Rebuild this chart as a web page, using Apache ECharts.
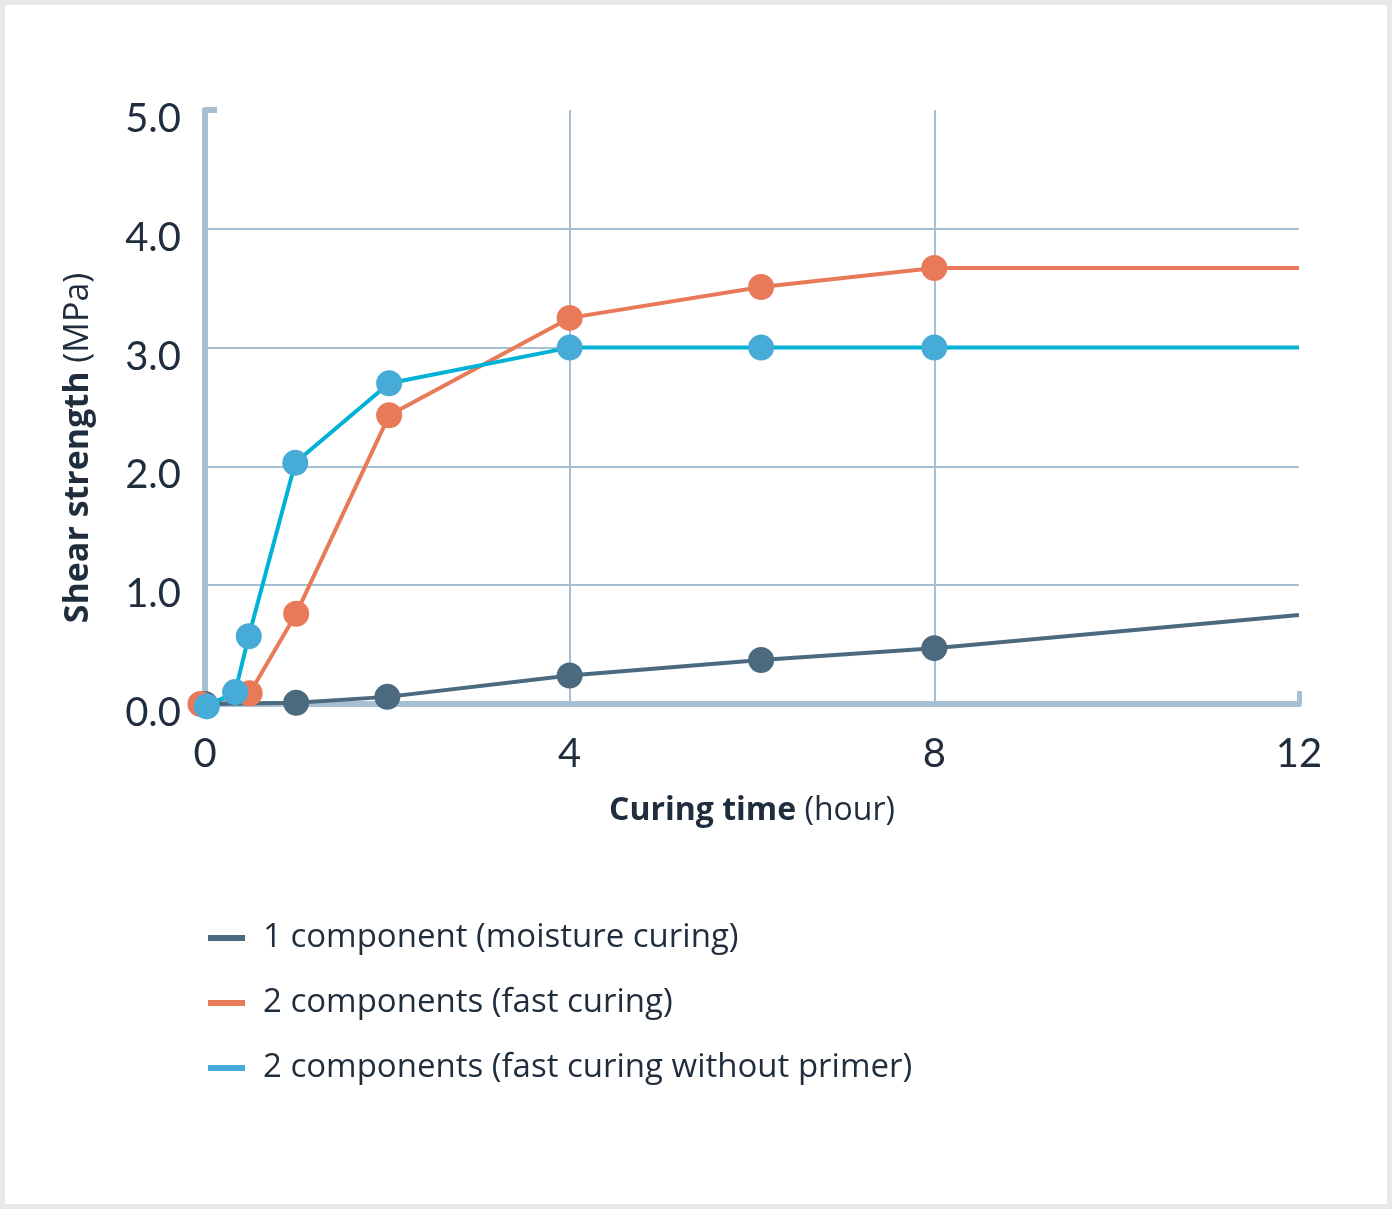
<!DOCTYPE html>
<html>
<head>
<meta charset="utf-8">
<script src="https://cdn.jsdelivr.net/npm/echarts@6/dist/echarts.min.js"></script>
<style>
html,body{margin:0;padding:0;background:#fff;}
#chart{position:absolute;left:0;top:0;width:1392px;height:1209px;}
#frame{position:absolute;left:0;top:0;width:1392px;height:1209px;box-sizing:border-box;border:5px solid #e8e8e8;pointer-events:none;}
</style>
</head>
<body>
<div id="chart"></div>
<div id="frame"></div>
<script>
// Data
const seriesNames = [
  '1 component (moisture curing)',
  '2 components (fast curing)',
  '2 components (fast curing without primer)'
];
const oneCompX = [0, 1, 2, 4, 6.1, 8, 12];
const oneCompY = [0.0, 0.01, 0.06, 0.24, 0.37, 0.47, 0.75];
const twoCompX = [-0.05, 0.49, 1, 2.02, 4, 6.1, 8, 12];
const twoCompY = [0.0, 0.09, 0.76, 2.43, 3.25, 3.51, 3.67, 3.67];
const noPrimerX = [0.02, 0.33, 0.48, 0.99, 2.02, 4, 6.1, 8, 12];
const noPrimerY = [-0.02, 0.1, 0.57, 2.03, 2.7, 3.0, 3.0, 3.0, 3.0];
const xTicks = [0, 4, 8, 12];
const yTicks = [0, 1, 2, 3, 4, 5];

function build(xs, ys) {
  return xs.map((x, i) => {
    const item = { value: [x, ys[i]] };
    if (i === xs.length - 1) { item.symbol = 'none'; }
    return item;
  });
}

const textColor = '#1f2d3d';
const gridColor = '#a7bfd2';
const tickFont = 'Lato, "Noto Sans", sans-serif';
const font = '"Open Sans", "Noto Sans", sans-serif';

const chart = echarts.init(document.getElementById('chart'), null, { renderer: 'canvas' });
chart.setOption({
  backgroundColor: '#ffffff',
  animation: false,
  textStyle: { fontFamily: font, color: textColor },
  grid: { left: 205, right: 93, top: 110, bottom: 505, containLabel: false },
  xAxis: [{
    type: 'value',
    min: 0, max: 12, interval: 4,
    offset: 4,
    axisLine: { show: true, lineStyle: { color: gridColor, width: 6 } },
    axisTick: { show: false },
    axisLabel: {
      fontSize: 40, color: textColor, fontFamily: tickFont, margin: 26,
      customValues: xTicks,
      formatter: v => String(v)
    },
    splitLine: { show: true, showMinLine: false, showMaxLine: false, lineStyle: { color: gridColor, width: 2 } },
    name: '{b|Curing time }{r|(hour)}',
    nameLocation: 'middle',
    nameGap: 87,
    nameTextStyle: {
      rich: {
        b: { fontSize: 32, fontWeight: 'bold', color: textColor, fontFamily: font },
        r: { fontSize: 32, color: textColor, fontFamily: font }
      }
    }
  }, {
    type: 'value',
    min: 0, max: 12, interval: 12,
    position: 'bottom',
    offset: 4,
    axisLine: { show: false },
    axisLabel: { show: false },
    splitLine: { show: false },
    axisTick: { show: true, inside: true, customValues: [12], length: 13, lineStyle: { color: gridColor, width: 5 } }
  }],
  yAxis: [{
    type: 'value',
    min: 0, max: 5, interval: 1,
    axisLine: { show: true, lineStyle: { color: gridColor, width: 6 } },
    axisTick: { show: false },
    axisLabel: {
      fontSize: 40, color: textColor, fontFamily: tickFont, margin: 24,
      verticalAlign: 'top', lineHeight: 18,
      customValues: yTicks,
      formatter: v => v.toFixed(1)
    },
    splitLine: { show: true, showMinLine: false, showMaxLine: false, lineStyle: { color: gridColor, width: 2 } },
    name: '{b|Shear strength }{r|(MPa)}',
    nameLocation: 'middle',
    nameGap: 110,
    nameRotate: 90,
    nameTextStyle: {
      padding: [0, 82, 0, 0],
      rich: {
        b: { fontSize: 34, fontWeight: 'bold', color: textColor, fontFamily: font },
        r: { fontSize: 34, color: textColor, fontFamily: font }
      }
    }
  }, {
    type: 'value',
    min: 0, max: 5, interval: 5,
    position: 'left',
    axisLine: { show: false },
    axisLabel: { show: false },
    splitLine: { show: false },
    axisTick: { show: true, inside: true, customValues: [5], length: 12, lineStyle: { color: gridColor, width: 6 } }
  }],
  legend: {
    orient: 'vertical',
    left: 208,
    top: 918,
    padding: 0,
    itemWidth: 37,
    itemHeight: 6,
    itemGap: 25,
    icon: 'rect',
    textStyle: { fontSize: 33, color: textColor, fontFamily: font, lineHeight: 40, padding: [0, 0, 0, 13] },
    data: seriesNames
  },
  series: [
    {
      name: seriesNames[0], type: 'line', clip: false,
      symbol: 'circle', symbolSize: 26,
      itemStyle: { color: '#4b6a80' },
      lineStyle: { color: '#4b6a80', width: 4 },
      data: build(oneCompX, oneCompY)
    },
    {
      name: seriesNames[1], type: 'line', clip: false,
      symbol: 'circle', symbolSize: 26,
      itemStyle: { color: '#e87a59' },
      lineStyle: { color: '#e87a59', width: 4 },
      data: build(twoCompX, twoCompY)
    },
    {
      name: seriesNames[2], type: 'line', clip: false,
      symbol: 'circle', symbolSize: 26,
      itemStyle: { color: '#47abd7' },
      lineStyle: { color: '#00b2d3', width: 4 },
      data: build(noPrimerX, noPrimerY)
    }
  ]
});
</script>
</body>
</html>
